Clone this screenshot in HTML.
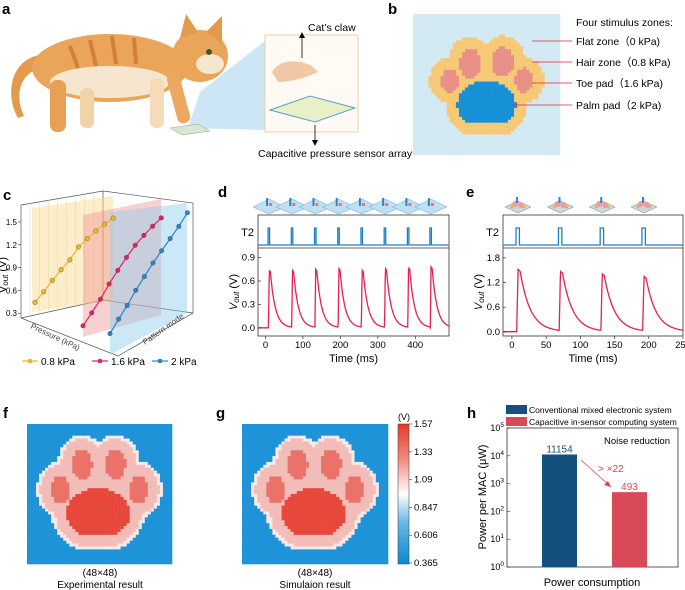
<!DOCTYPE html>
<html><head><meta charset="utf-8">
<style>
body{margin:0;background:#fff;}
svg{display:block;font-family:"Liberation Sans",Arial,sans-serif;}
</style></head>
<body>
<svg id="fig" width="685" height="590" viewBox="0 0 685 590" xmlns="http://www.w3.org/2000/svg">
<g>
<text x="2" y="14" font-size="15" font-weight="bold">a</text>
<polygon points="200,92 266,40 266,130 188,128" fill="#bfe0f2" opacity="0.8"/>
<path d="M40,55 C10,60 5,95 18,118 L24,116 C14,95 20,72 42,68 Z" fill="#e39a4a"/>
<ellipse cx="110" cy="68" rx="78" ry="34" fill="#eba55a"/>
<ellipse cx="110" cy="82" rx="60" ry="16" fill="#f7e6cf"/>
<rect x="50" y="80" width="16" height="52" rx="7" fill="#e8a055"/>
<rect x="80" y="88" width="14" height="40" rx="6" fill="#f2d3a8"/>
<rect x="150" y="78" width="14" height="50" rx="6" fill="#f4dcb8"/>
<rect x="172" y="72" width="13" height="52" rx="6" fill="#eaa861" transform="rotate(-15 178 98)"/>
<ellipse cx="200" cy="56" rx="28" ry="26" fill="#eba55a"/>
<polygon points="180,38 186,14 198,32" fill="#e39a4a"/>
<polygon points="206,32 222,16 222,44" fill="#e39a4a"/>
<ellipse cx="210" cy="64" rx="14" ry="10" fill="#f7e6cf"/>
<circle cx="209" cy="52" r="3" fill="#3a5a20"/>
<path d="M90,40 l6,26 M112,36 l4,28 M134,38 l2,26 M70,46 l8,22" stroke="#d0803a" stroke-width="4" fill="none"/>
<polygon points="170,128 198,124 210,131 182,135" fill="#d8e8d0" stroke="#999" stroke-width="0.5"/>
<rect x="265" y="35" width="93" height="97" fill="#fffaf3" stroke="#f0cfa5" stroke-width="1"/>
<path d="M272,72 C280,58 300,60 312,66 L318,72 C306,78 290,82 278,82 Z" fill="#f0c8a8"/>
<polygon points="270,110 310,96 355,108 315,122" fill="#e8f0c8" stroke="#5aa0c8" stroke-width="1"/>
<line x1="302" y1="58" x2="302" y2="36" stroke="#000" stroke-width="0.8"/>
<polygon points="299,38 302,32 305,38" fill="#000"/>
<text x="308" y="31" font-size="10.5">Cat’s claw</text>
<line x1="315" y1="125" x2="315" y2="142" stroke="#000" stroke-width="0.8"/>
<polygon points="312,140 315,146 318,140" fill="#000"/>
<text x="258" y="157" font-size="10.5">Capacitive pressure sensor array</text>
</g>
<g>
<text x="388" y="14" font-size="15" font-weight="bold">b</text>
<g id="gridB"></g>
<text x="576" y="26" font-size="10.5">Four stimulus zones:</text>
<line x1="532" y1="41" x2="572" y2="41" stroke="#e23" stroke-width="0.8"/>
<text x="576" y="45" font-size="10.5">Flat zone（0 kPa)</text>
<line x1="532" y1="62" x2="572" y2="62" stroke="#e23" stroke-width="0.8"/>
<text x="576" y="66" font-size="10.5">Hair zone（0.8 kPa)</text>
<line x1="532" y1="83" x2="572" y2="83" stroke="#e23" stroke-width="0.8"/>
<text x="576" y="87" font-size="10.5">Toe pad（1.6 kPa)</text>
<line x1="512" y1="105" x2="572" y2="105" stroke="#e23" stroke-width="0.8"/>
<text x="576" y="109" font-size="10.5">Palm pad（2 kPa)</text>
</g>
<g id="panelC">
<text x="3" y="200" font-size="15" font-weight="bold">c</text>
</g>
<g id="panelD">
<text x="218" y="197" font-size="15" font-weight="bold">d</text>
</g>
<g id="panelE">
<text x="466" y="197" font-size="15" font-weight="bold">e</text>
</g>
<g>
<text x="3" y="418" font-size="15" font-weight="bold">f</text>
<g id="gridF"></g>
<text x="100" y="576" font-size="10" text-anchor="middle">(48×48)</text>
<text x="100" y="588" font-size="10" text-anchor="middle">Experimental  result</text>
</g>
<g>
<text x="216" y="418" font-size="15" font-weight="bold">g</text>
<g id="gridG"></g>
<text x="315" y="576" font-size="10" text-anchor="middle">(48×48)</text>
<text x="315" y="588" font-size="10" text-anchor="middle">Simulaion result</text>
<defs><linearGradient id="cb" x1="0" y1="1" x2="0" y2="0">
<stop offset="0" stop-color="#0a88d0"/><stop offset="0.3" stop-color="#6ab8e4"/><stop offset="0.5" stop-color="#ffffff"/><stop offset="0.75" stop-color="#ee8a80"/><stop offset="1" stop-color="#e8392a"/></linearGradient></defs>
<text x="398" y="420" font-size="9">(V)</text>
<rect x="398" y="424" width="11" height="140" fill="url(#cb)" stroke="#333" stroke-width="0.5"/>
<g id="cbTicks" font-size="9.5"></g>
</g>
<g id="panelH">
<text x="467" y="418" font-size="15" font-weight="bold">h</text>
</g>
</svg>
<script>
const NS="http://www.w3.org/2000/svg";
function mk(parent,tag,attrs,text){const e=document.createElementNS(NS,tag);for(const k in attrs)e.setAttribute(k,attrs[k]);if(text!==undefined)e.textContent=text;parent.appendChild(e);return e;}

const cSeriesNames=["0.8 kPa","1.6 kPa","2 kPa"];
const cColors=["#f0b429","#e0245e","#2a86c8"];
const cYellow=[0.31,0.45,0.6,0.74,0.87,1.04,1.15,1.25,1.34,1.42];
const cRed=[0.2,0.37,0.55,0.75,0.93,1.1,1.26,1.39,1.51,1.62];
const cBlue=[0.15,0.34,0.52,0.72,0.9,1.08,1.24,1.4,1.56,1.74];
const cZTicks=[0.3,0.6,0.9,1.2,1.5];
const dPulseTimes=[8,70,132,194,256,318,380,440];
const dPeaks=[0.74,0.74,0.75,0.76,0.74,0.76,0.77,0.78];
const dXTicks=[0,100,200,300,400];
const dYTicks=[0.0,0.3,0.6,0.9];
const ePulseTimes=[7,69,130,191];
const ePeaks=[1.52,1.47,1.41,1.35];
const eXTicks=[0,50,100,150,200,250];
const eYTicks=[0.0,0.6,1.2,1.8];
const hCategories=["Conventional mixed electronic system","Capacitive in-sensor computing system"];
const hValues=[11154,493];
const hColors=["#14507e","#d84a58"];
const hYTicks=[0,1,2,3,4,5];
const cbTicks=["1.57","1.33","1.09","0.847","0.606","0.365"];

(function(){
  const g=document.getElementById("panelC");
  mk(g,"polygon",{points:"21,205 103,191 193,203 193,313 118,356 21,318",fill:"none",stroke:"#555","stroke-width":0.7});
  mk(g,"line",{x1:103,y1:191,x2:103,y2:300,stroke:"#555","stroke-width":0.7});
  mk(g,"line",{x1:21,y1:318,x2:103,y2:300,stroke:"#555","stroke-width":0.7});
  mk(g,"line",{x1:103,y1:300,x2:193,y2:313,stroke:"#555","stroke-width":0.7});
  for(let i=1;i<9;i++){const x=21+i*9.1;mk(g,"line",{x1:x,y1:205-i*1.6,x2:x,y2:318-i*2,stroke:"#ccc","stroke-width":0.4});}
  const z=v=>336-v*76;
  mk(g,"polygon",{points:"32,208 113,196 113,300 32,312",fill:"#fbd98a",opacity:0.45,});
  mk(g,"polygon",{points:"83,215 161,199 161,315 83,337",fill:"#f08a8a",opacity:0.4,});
  mk(g,"polygon",{points:"110,212 187,203 187,313 110,355",fill:"#8ccbea",opacity:0.45,});
  cZTicks.forEach(t=>{const y=z(t);
    mk(g,"line",{x1:18,y1:y,x2:21,y2:y,stroke:"#333","stroke-width":0.6});
    mk(g,"text",{x:17,y:y+3,"font-size":8,"text-anchor":"end"},t.toFixed(1));});
  const series=[[cYellow,35,326,8.7],[cRed,83,341,8.7],[cBlue,110,345,8.6]];
  series.forEach((s,si)=>{
    const [vals,x0,b,dx]=s;
    const pts=vals.map((v,i)=>[x0+i*dx,b-v*76]);
    const l=mk(g,"polyline",{points:pts.map(p=>p.join(",")).join(" "),fill:"none",stroke:cColors[si],"stroke-width":1.2});
    
    
    pts.forEach(p=>{const c=mk(g,"circle",{cx:p[0],cy:p[1],r:2.3,fill:cColors[si],stroke:"#333","stroke-width":0.3});
      
      });
  });
  const yt=mk(g,"text",{x:6,y:275,"font-size":11,transform:"rotate(-90 6 275)","text-anchor":"middle"});
  yt.innerHTML='V<tspan font-size="8" dy="2">out</tspan><tspan dy="-2"> (V)</tspan>';
  mk(g,"text",{x:30,y:328,"font-size":8,transform:"rotate(25 30 328)",fill:"#444"},"Pressure (kPa)");
  mk(g,"text",{x:145,y:345,"font-size":8,transform:"rotate(-35 145 345)",fill:"#444"},"Pattern mode");
  const lx=[22,92,152];
  cSeriesNames.forEach((n,i)=>{
    mk(g,"line",{x1:lx[i],y1:361,x2:lx[i]+16,y2:361,stroke:cColors[i],"stroke-width":1.2});
    mk(g,"circle",{cx:lx[i]+8,cy:361,r:2.3,fill:cColors[i]});
    const t=mk(g,"text",{x:lx[i]+19,y:365,"font-size":10},n);
    
    
  });
})();

function timePanel(gid,X0,X1,tmin,tmax,vmin,vmax,times,peaks,tau,xt,yt,width,iconType){
  const g=document.getElementById(gid);
  const sx=t=>X0+(t-tmin)/(tmax-tmin)*(X1-X0);
  const sy=v=>336-(v-vmin)/(vmax-vmin)*(336-248);
  mk(g,"rect",{x:X0,y:215,width:X1-X0,height:121,fill:"none",stroke:"#333","stroke-width":0.8});
  mk(g,"line",{x1:X0,y1:248,x2:X1,y2:248,stroke:"#333","stroke-width":0.8});
  mk(g,"text",{x:X0-4,y:236,"font-size":11,"text-anchor":"end"},"T2");
  let p="M"+X0+",245";
  times.forEach(t=>{const a=sx(t-1),b=sx(t+width);p+=" L"+a+",245 L"+a+",228 L"+b+",228 L"+b+",245";});
  p+=" L"+X1+",245";
  const t2=mk(g,"path",{d:p,fill:"none",stroke:"#1f7fc4","stroke-width":1.3});
  
  
  times.forEach(t=>{
    const cx=sx(t+width/2);
    if(iconType==="d"){mk(g,"polygon",{points:`${cx-16},${207} ${cx},${199} ${cx+16},${207} ${cx},${214}`,fill:"#bfe0f2",stroke:"#6aa8d0","stroke-width":0.5});
      mk(g,"rect",{x:cx-3,y:198,width:2,height:8,fill:"#2a86c8"});mk(g,"rect",{x:cx,y:203,width:3,height:3,fill:"#f07080"});}
    else{mk(g,"polygon",{points:`${cx-13},${207} ${cx},${201} ${cx+13},${207} ${cx},${213}`,fill:"#c8d8e0",stroke:"#888","stroke-width":0.5});
      mk(g,"circle",{cx:cx-3,cy:204,r:3,fill:"#f39aa0"});mk(g,"circle",{cx:cx+3,cy:205,r:3,fill:"#f39aa0"});mk(g,"circle",{cx:cx-6,cy:207,r:1.5,fill:"#f0b429"});mk(g,"circle",{cx:cx+6,cy:207,r:1.5,fill:"#f0b429"});mk(g,"rect",{x:cx-2,y:197,width:2,height:6,fill:"#2a86c8"});}
  });
  let d="";const step=(tmax-tmin)/500;
  for(let t=tmin;t<=tmax;t+=step){
    let v=0.005;
    times.forEach((tp,i)=>{const nx=times[i+1]!==undefined?times[i+1]:1e9;
      if(t>=tp&&t<tp+2)v=peaks[i]*(t-tp)/2;
      else if(t>=tp+2&&t<tp+5)v=peaks[i]*(1-0.03*(t-tp-2)/3);
      else if(t>=tp+5&&t<nx)v=peaks[i]*0.97*Math.exp(-(t-tp-5)/tau)+0.005;});
    d+=(d?" L":"M")+sx(t).toFixed(1)+","+sy(v).toFixed(1);
  }
  const vo=mk(g,"path",{d:d,fill:"none",stroke:"#e8204e","stroke-width":1.3});
  
  
  xt.forEach(t=>{const x=sx(t);mk(g,"line",{x1:x,y1:336,x2:x,y2:339,stroke:"#333","stroke-width":0.7});mk(g,"text",{x:x,y:348,"font-size":9.5,"text-anchor":"middle"},t);});
  yt.forEach(v=>{const y=sy(v);mk(g,"line",{x1:X0,y1:y,x2:X0+3,y2:y,stroke:"#333","stroke-width":0.7});mk(g,"text",{x:X0-3,y:y+3,"font-size":9.5,"text-anchor":"end"},v.toFixed(1));});
  const yl=mk(g,"text",{x:X0-21,y:292,"font-size":11,"text-anchor":"middle",transform:`rotate(-90 ${X0-21} 292)`});
  yl.innerHTML='<tspan font-style="italic">V</tspan><tspan font-size="8" dy="2" font-style="italic">out</tspan><tspan dy="-2"> (V)</tspan>';
  mk(g,"text",{x:(X0+X1)/2,y:362,"font-size":11,"text-anchor":"middle"},"Time (ms)");
}
timePanel("panelD",258,449,-20,490,-0.1,1.02,dPulseTimes,dPeaks,13,dXTicks,dYTicks,3,"d");
timePanel("panelE",503,683,-13,250,-0.1,2.04,ePulseTimes,ePeaks,15,eXTicks,eYTicks,4,"e");

function inEll(x,y,cx,cy,rx,ry){return ((x-cx)/rx)**2+((y-cy)/ry)**2<=1;}
const shapeB={toes:[[0.39,0.35,0.075,0.105],[0.61,0.34,0.075,0.105],[0.25,0.47,0.06,0.085],[0.755,0.47,0.06,0.085]],palm:[0.5,0.64,0.2,0.17,0.78],core:[0.5,0.52,0.3,0.2],m:0.08,rim:0};
const shapeF={toes:[[0.38,0.29,0.07,0.11],[0.61,0.29,0.07,0.11],[0.23,0.47,0.065,0.1],[0.77,0.47,0.065,0.1]],palm:[0.49,0.64,0.22,0.18,0.79],core:[0.5,0.5,0.33,0.25],m:0.1,rim:0.075};
function zone(s,x,y,m){
  const P=s.palm;
  const palm=inEll(x,y,P[0],P[1],P[2],P[3])&&y<P[4];
  const toe=s.toes.some(t=>inEll(x,y,t[0],t[1],t[2],t[3]));
  if(palm)return 3; if(toe)return 2;
  const hair=s.toes.some(t=>inEll(x,y,t[0],t[1],t[2]+m,t[3]+m))||(inEll(x,y,P[0],P[1],P[2]+m,P[3]+m)&&y<P[4]+m)||inEll(x,y,s.core[0],s.core[1],s.core[2],s.core[3]);
  return hair?1:0;
}
function drawGrid(gid,X,Y,W,H,colors,rim,s){
  const g=document.getElementById(gid);const n=48,cw=W/n,ch=H/n;
  for(let i=0;i<n;i++)for(let j=0;j<n;j++){
    const x=(i+0.5)/n,y=(j+0.5)/n;let z=zone(s,x,y,s.m);let c=colors[z];
    if(rim&&z===1&&zone(s,x,y,s.rim)===0)c=rim;
    mk(g,"rect",{x:(X+i*cw).toFixed(2),y:(Y+j*ch).toFixed(2),width:(cw+0.3).toFixed(2),height:(ch+0.3).toFixed(2),fill:c});
  }
}
drawGrid("gridB",413,14,147,141,["#d3e9f4","#f6c977","#e89088","#1690d6"],null,shapeB);
drawGrid("gridF",27,424,145,140,["#1e93d8","#f2bdb8","#ea7268","#e8483c"],"#f8e8e6",shapeF);
drawGrid("gridG",242,424,146,140,["#1e93d8","#f2bdb8","#ea7268","#e8483c"],"#f8e8e6",shapeF);
(function(){const g=document.getElementById("cbTicks");
  cbTicks.forEach((t,i)=>{const y=424+i*139/5;mk(g,"line",{x1:409,y1:y,x2:412,y2:y,stroke:"#333","stroke-width":0.6});mk(g,"text",{x:414,y:y+3},t);});})();

(function(){
  const g=document.getElementById("panelH");
  const X0=507,X1=678,Y0=567,Y1=428;
  const sy=v=>Y0-(Math.log10(v))/5*(Y0-Y1);
  mk(g,"rect",{x:X0,y:Y1,width:X1-X0,height:Y0-Y1,fill:"none",stroke:"#333","stroke-width":0.8});
  const bx=[542,612];
  hValues.forEach((v,i)=>{
    const r=mk(g,"rect",{x:bx[i],y:sy(v),width:35,height:Y0-sy(v),fill:hColors[i]});
    
    
    mk(g,"text",{x:bx[i]+17.5,y:sy(v)-2,"font-size":10,"text-anchor":"middle",fill:hColors[i]},v);
    const ly=405+i*12;
    mk(g,"rect",{x:506,y:ly,width:21,height:9,fill:hColors[i]});
    const lt=mk(g,"text",{x:529,y:ly+8,"font-size":8.5},hCategories[i]);
    
    
  });
  hYTicks.forEach(e=>{const y=sy(Math.pow(10,e));mk(g,"line",{x1:X0,y1:y,x2:X0+3,y2:y,stroke:"#333","stroke-width":0.6});
    const t=mk(g,"text",{x:X0-3,y:y+3,"font-size":9,"text-anchor":"end"});t.innerHTML='10<tspan dy="-4" font-size="6.5">'+e+'</tspan>';});
  mk(g,"text",{x:670,y:444,"font-size":9.5,"text-anchor":"end"},"Noise reduction");
  mk(g,"line",{x1:581,y1:460,x2:611,y2:487,stroke:"#e04050","stroke-width":0.8});
  mk(g,"polygon",{points:"611,487 604,485 608,481",fill:"#e04050"});
  mk(g,"text",{x:598,y:472,"font-size":10,fill:"#e04050"},"> ×22");
  mk(g,"text",{x:486,y:497,"font-size":11,"text-anchor":"middle",transform:"rotate(-90 486 497)"},"Power per MAC (μW)");
  mk(g,"text",{x:592,y:586,"font-size":11,"text-anchor":"middle"},"Power consumption");
})();
</script>
</body></html>
